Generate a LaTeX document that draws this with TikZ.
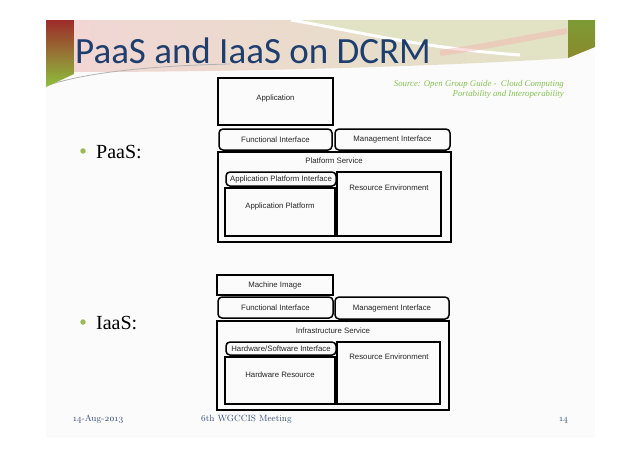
\documentclass[tikz,border=0pt]{standalone}
\usepackage{fontspec}
\setmainfont{Latin Modern Roman}
\newfontfamily\titlefont{Carlito}
\newfontfamily\diafont{Liberation Sans}
\newfontfamily\bulfont{Liberation Serif}
\definecolor{titleblue}{RGB}{30,62,110}
\definecolor{srcgreen}{RGB}{132,196,80}
\definecolor{bulgreen}{RGB}{155,187,89}
\definecolor{footblue}{RGB}{55,80,125}
\definecolor{pinkc}{RGB}{241,214,212}
\definecolor{beigec}{RGB}{226,226,196}
\definecolor{slidebg}{RGB}{251,251,251}
\begin{document}
\begin{tikzpicture}[x=1pt,y=-1pt,
  box/.style={draw=black, line width=1.5pt, rectangle, inner sep=0pt, outer sep=0pt, anchor=north west},
  rbox/.style={box, rounded corners=4pt},
  dtext/.style={font=\diafont\fontsize{7.8}{9}\selectfont, text=black!85, inner sep=0pt},
  bullet/.style={circle, fill=bulgreen, minimum size=5.5pt, inner sep=0pt},
  bultext/.style={font=\bulfont\fontsize{20}{24}\selectfont, anchor=base west, inner sep=0pt},
  foot/.style={font=\fontsize{9}{11}\selectfont, text=footblue, anchor=base west, inner sep=0pt},
  src/.style={font=\bulfont\itshape\fontsize{8.8}{10}\selectfont, text=srcgreen, anchor=base east, inner sep=0pt}
]
\useasboundingbox (0,0) rectangle (638,451);
\fill[white] (0,0) rectangle (638,451);
\fill[slidebg] (46,20) rectangle (595,438);
% header decoration
\shade[left color=pinkc, middle color=pinkc, right color=beigec]
  (74,20) -- (568,20) -- (568,58) .. controls (450,66) and (250,72) .. (74,72) -- cycle;
\fill[beigec] (291,20) .. controls (350,30) and (420,48) .. (520,55) -- (568,55) -- (568,20) -- cycle;
\draw[white, line width=3pt] (291,20) .. controls (350,30) and (420,48) .. (520,55);
\draw[pinkc!80!red, line width=6pt, opacity=0.4] (440,53) .. controls (490,46) and (530,37) .. (567,31);
\draw[gray!60, line width=0.8pt] (46,86) .. controls (80,74) and (140,66) .. (230,64);
\shade[top color={rgb,255:red,158;green,43;blue,43}, bottom color={rgb,255:red,141;green,192;blue,61}]
  (46,20) -- (74,20) -- (74,74) -- (46,87) -- cycle;
\shade[top color={rgb,255:red,125;green,155;blue,53}, middle color={rgb,255:red,154;green,90;blue,53}, bottom color={rgb,255:red,138;green,138;blue,46}]
  (568,20) -- (595,20) -- (595,47) -- (568,58) -- cycle;
% title
\node[font=\titlefont\fontsize{37}{40}\selectfont, text=titleblue, anchor=base west, inner sep=0pt] (title) at (75,63) {PaaS and IaaS on DCRM};
% source
\node[src] (src1) at (564,86) {Source: Open Group Guide -\ \ Cloud Computing};
\node[src] (src2) at (564,96) {Portability and Interoperability};
% bullets
\node[bullet] (b1) at (83,151) {};
\node[bultext] (t1) at (96,158) {PaaS:};
\node[bullet] (b2) at (83,322) {};
\node[bultext] (t2) at (96,329) {IaaS:};
% PaaS diagram
\node[box, minimum width=115pt, minimum height=47pt] (app) at (218,78) {};
\node[dtext] (appl) at (275.5,98) {Application};
\node[rbox, minimum width=113pt, minimum height=21pt] (fi1) at (219,129) {};
\node[dtext] at (fi1.center) {Functional Interface};
\node[rbox, minimum width=115pt, minimum height=21pt] (mi1) at (335,129) {};
\node[dtext] at (mi1.center) {Management Interface};
\node[box, minimum width=233pt, minimum height=90pt] (ps) at (218,152) {};
\node[dtext] (psl) at (334,161) {Platform Service};
\node[rbox, minimum width=110pt, minimum height=14pt] (api) at (226,172) {};
\node[dtext] at (api.center) {Application Platform Interface};
\node[box, minimum width=110pt, minimum height=48pt] (ap) at (225,188) {};
\node[dtext] (apl) at (280,206) {Application Platform};
\node[box, minimum width=104pt, minimum height=64pt] (re1) at (337,172) {};
\node[dtext] (re1l) at (389,188) {Resource Environment};
% IaaS diagram
\node[box, minimum width=116pt, minimum height=20pt] (mimg) at (217,275) {};
\node[dtext] at (mimg.center) {Machine Image};
\node[rbox, minimum width=115pt, minimum height=21pt] (fi2) at (218,297) {};
\node[dtext] at (fi2.center) {Functional Interface};
\node[rbox, minimum width=114pt, minimum height=22pt] (mi2) at (335,297) {};
\node[dtext] at (mi2.center) {Management Interface};
\node[box, minimum width=232pt, minimum height=89pt] (is) at (217,321) {};
\node[dtext] (isl) at (333,331) {Infrastructure Service};
\node[rbox, minimum width=110pt, minimum height=13pt] (hsi) at (226,342) {};
\node[dtext] at (hsi.center) {Hardware/Software Interface};
\node[box, minimum width=110pt, minimum height=47pt] (hr) at (225,357) {};
\node[dtext] (hrl) at (280,375) {Hardware Resource};
\node[box, minimum width=103pt, minimum height=62pt] (re2) at (337,342) {};
\node[dtext] (re2l) at (389,357) {Resource Environment};
% footer
\node[foot] (f1) at (73,421) {\oldstylenums{14}-Aug-\oldstylenums{2013}};
\node[foot] (f2) at (201,421) {6th WGCCIS Meeting};
\node[foot, anchor=base east] (f3) at (568,421) {\oldstylenums{14}};
\end{tikzpicture}
\end{document}
